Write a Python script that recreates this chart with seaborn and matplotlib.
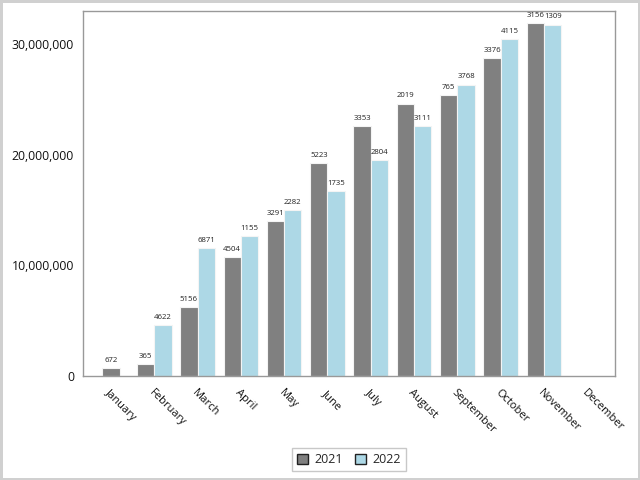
import numpy as np
import pandas as pd
import matplotlib
matplotlib.use("Agg")
import matplotlib.pyplot as plt
from matplotlib.patches import Patch
from matplotlib.ticker import FuncFormatter
import seaborn as sns

months = ["January", "February", "March", "April", "May", "June", "July",
          "August", "September", "October", "November", "December"]
years = ["2021", "2022"]
values_2021 = [680000, 1060000, 6190000, 10720000, 14000000, 19250000, 22600000,
               24630000, 25360000, 28760000, 31890000, np.nan]
values_2022 = [np.nan, 4620000, 11540000, 12680000, 14970000, 16680000, 19490000,
               22600000, 26350000, 30480000, 31770000, np.nan]
labels_2021 = ["672", "365", "5156", "4504", "3291", "5223", "3353", "2019",
               "765", "3376", "3156", ""]
labels_2022 = ["", "4622", "6871", "1155", "2282", "1735", "2804", "3111",
               "3768", "4115", "1309", ""]
colors = {"2021": "#808080", "2022": "#ADD8E6"}
y_ticks = [0, 10000000, 20000000, 30000000]

sns.set_style("white")
plt.rcParams["font.family"] = ["Open Sans", "DejaVu Sans"]

df = pd.DataFrame({
    "month": months * 2,
    "year": ["2021"] * 12 + ["2022"] * 12,
    "value": values_2021 + values_2022,
})

fig = plt.figure(figsize=(6.4, 4.8), dpi=100)
fig.patch.set_edgecolor("#d0d0d0")
fig.patch.set_linewidth(2.5)
ax = fig.add_axes([0.130, 0.217, 0.831, 0.760])

sns.barplot(data=df, x="month", y="value", hue="year", order=months,
            hue_order=years, palette=colors, saturation=1, width=0.8,
            errorbar=None, edgecolor="#f4f4f4", linewidth=0.8, legend=False,
            ax=ax)

vals = {"2021": values_2021, "2022": values_2022}
labs = {"2021": labels_2021, "2022": labels_2022}
for yr, container in zip(years, ax.containers):
    other = vals["2022" if yr == "2021" else "2021"]
    for bar in container:
        h = bar.get_height()
        if not np.isfinite(h):
            continue
        w = bar.get_width()
        cat = int(round(bar.get_x() + w / 2 + (0.2 if yr == "2021" else -0.2)))
        if not np.isfinite(other[cat]):
            bar.set_x(cat - w / 2)
        ax.annotate(labs[yr][cat], (bar.get_x() + w / 2, h),
                    xytext=(0, 3), textcoords="offset points",
                    ha="center", va="bottom", fontsize=5.6, color="#222222")

ax.set_xlim(-0.64, 11.64)
ax.set_ylim(0, 33000000)
ax.set_yticks(y_ticks)
ax.yaxis.set_major_formatter(FuncFormatter(lambda v, p: f"{v:,.0f}"))
ax.set_xlabel("")
ax.set_ylabel("")
ax.tick_params(axis="both", which="both", length=4.5, color="#999999",
               labelcolor="#111111")
ax.tick_params(axis="x", labelsize=8, pad=4)
ax.tick_params(axis="y", labelsize=8.8, pad=2.2)
for lbl in ax.get_xticklabels():
    lbl.set_rotation(-45)
    lbl.set_ha("left")
    lbl.set_rotation_mode("anchor")
for s in ax.spines.values():
    s.set_visible(True)
    s.set_color("#999999")
    s.set_linewidth(1)

handles = [Patch(facecolor=colors[y], edgecolor="#222222", label=y) for y in years]
leg = fig.legend(handles=handles, loc="center", bbox_to_anchor=(0.5455, 0.043),
                 ncol=2, frameon=True, fancybox=False, fontsize=9,
                 handlelength=0.85, handleheight=0.85, handletextpad=0.5,
                 columnspacing=1.0, borderpad=0.4)
leg.get_frame().set_edgecolor("#bbbbbb")
leg.get_frame().set_linewidth(1)

fig.savefig("out.png", dpi=100)
